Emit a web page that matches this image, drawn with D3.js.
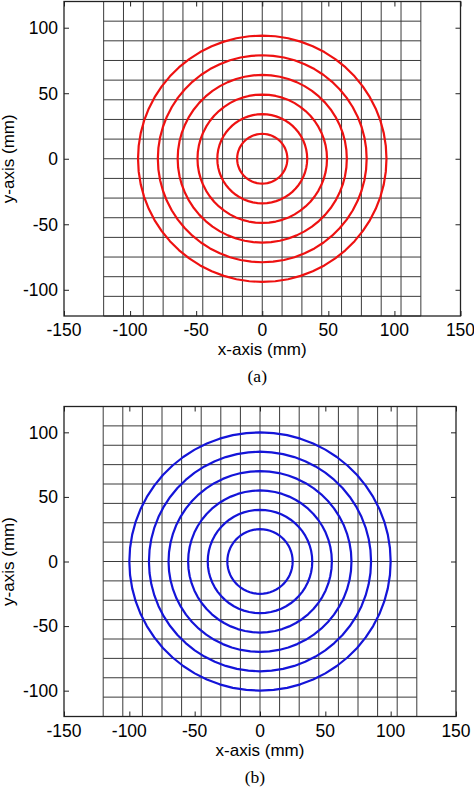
<!DOCTYPE html>
<html>
<head>
<meta charset="utf-8">
<script src="https://cdn.jsdelivr.net/npm/d3@7"></script>
<style>
  body { margin: 0; background: #fff; }
  svg { display: block; }
  .tickLabel { font-family: "Liberation Sans", Arial, sans-serif; font-size: 17.5px; fill: #000; }
  .axisTitle { font-family: "Liberation Sans", Arial, sans-serif; font-size: 17px; fill: #000; }
  .caption { font-family: "Liberation Serif", "Times New Roman", serif; font-size: 17.5px; fill: #000; }
</style>
</head>
<body>
<svg id="rings" width="474" height="788"></svg>
<script>
// axis ticks (mm)
const xTicks = [-150, -100, -50, 0, 50, 100, 150];
const yTicks = [-100, -50, 0, 50, 100];
const xDomain = [-150, 150];
const yDomain = [-120, 120];

// the 15 mm mesh behind the rings
const meshLines = [-120, -105, -90, -75, -60, -45, -30, -15, 0, 15, 30, 45, 60, 75, 90, 105, 120];

// ring radii (mm)
const radiiA = [19, 34, 49, 64, 79, 94];
const radiiB = [25, 40, 55, 70, 85, 100];

const captions = ["(a)", "(b)"];

const panels = [
  { radii: radiiA, color: "#ee1111", caption: captions[0], left: 64, right: 460.5, top: 1.5, bottom: 316 },
  { radii: radiiB, color: "#1414d8", caption: captions[1], left: 64, right: 456, top: 406.5, bottom: 716.5 },
];

const svg = d3.select("#rings");

function drawPanel(p) {
  const g = svg.append("g");
  const x = d3.scaleLinear().domain(xDomain).range([p.left, p.right]);
  const y = d3.scaleLinear().domain(yDomain).range([p.bottom, p.top]);

  // mesh
  const mesh = g.append("g").attr("stroke", "#3a3a3a").attr("stroke-width", 1);
  mesh.selectAll("line.v")
    .data(meshLines)
    .join("line")
    .attr("class", "v")
    .attr("x1", d => x(d)).attr("x2", d => x(d))
    .attr("y1", y(-120)).attr("y2", y(120));
  mesh.selectAll("line.h")
    .data(meshLines)
    .join("line")
    .attr("class", "h")
    .attr("x1", x(-120)).attr("x2", x(120))
    .attr("y1", d => y(d)).attr("y2", d => y(d));

  // rings
  const angles = d3.range(0, 361, 6);
  p.radii.forEach(r => {
    const ring = d3.line()
      .x(a => x(r * Math.cos(a * Math.PI / 180)))
      .y(a => y(r * Math.sin(a * Math.PI / 180)));
    g.append("path")
      .attr("d", ring(angles))
      .attr("fill", "none")
      .attr("stroke", p.color)
      .attr("stroke-width", 2.2)
      .attr("stroke-linejoin", "round");
  });

  // frame with inward ticks on all four sides
  g.append("g")
    .attr("transform", `translate(0,${p.bottom})`)
    .call(d3.axisBottom(x).tickValues(xTicks).tickSize(-5).tickFormat(""))
    .call(s => s.select(".domain").remove());
  g.append("g")
    .attr("transform", `translate(0,${p.top})`)
    .call(d3.axisTop(x).tickValues(xTicks).tickSize(-5).tickFormat(""))
    .call(s => s.select(".domain").remove());
  g.append("g")
    .attr("transform", `translate(${p.left},0)`)
    .call(d3.axisLeft(y).tickValues(yTicks).tickSize(-5).tickFormat(""))
    .call(s => s.select(".domain").remove());
  g.append("g")
    .attr("transform", `translate(${p.right},0)`)
    .call(d3.axisRight(y).tickValues(yTicks).tickSize(-5).tickFormat(""))
    .call(s => s.select(".domain").remove());
  g.selectAll(".tick line").attr("stroke", "#222");

  g.append("rect")
    .attr("x", p.left).attr("y", p.top)
    .attr("width", p.right - p.left).attr("height", p.bottom - p.top)
    .attr("fill", "none").attr("stroke", "#222").attr("stroke-width", 1.3);

  // tick labels
  g.selectAll("text.xt")
    .data(xTicks)
    .join("text")
    .attr("class", "tickLabel xt")
    .attr("x", d => x(d))
    .attr("y", p.bottom + 20)
    .attr("text-anchor", "middle")
    .text(d => d);
  g.selectAll("text.yt")
    .data(yTicks)
    .join("text")
    .attr("class", "tickLabel yt")
    .attr("x", p.left - 6)
    .attr("y", d => y(d))
    .attr("dy", "0.36em")
    .attr("text-anchor", "end")
    .text(d => d);

  // titles
  const midX = x(0);
  g.append("text")
    .attr("class", "axisTitle")
    .attr("x", midX)
    .attr("y", p.bottom + 39)
    .attr("text-anchor", "middle")
    .text("x-axis (mm)");
  g.append("text")
    .attr("class", "axisTitle")
    .attr("transform", `translate(14,${y(0)}) rotate(-90)`)
    .attr("text-anchor", "middle")
    .text("y-axis (mm)");
  g.append("text")
    .attr("class", "caption")
    .attr("x", midX - 5)
    .attr("y", p.bottom + 66)
    .attr("text-anchor", "middle")
    .text(p.caption);
}

panels.forEach(drawPanel);
</script>
</body>
</html>
